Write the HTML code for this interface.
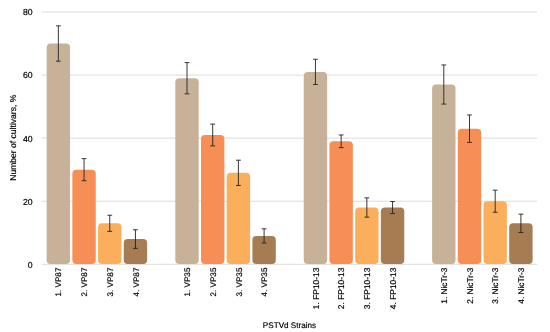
<!DOCTYPE html><html><head><meta charset="utf-8"><title>PSTVd Strains</title>
<style>html,body{margin:0;padding:0;background:#fff}svg{display:block}text{font-family:"Liberation Sans",Arial,Helvetica,sans-serif;font-size:8.5px;fill:#000;stroke:#000;stroke-width:0.18px;stroke-linejoin:round;text-rendering:geometricPrecision}</style></head><body>
<svg width="550" height="332" viewBox="0 0 550 332">
<rect width="550" height="332" fill="#fff"/>
<rect x="41.6" y="11.48" width="495.6" height="1" fill="#dcdcdc"/>
<text x="32.6" y="15.38" text-anchor="end" style="font-size:8.7px">80</text>
<rect x="41.6" y="74.56" width="495.6" height="1" fill="#dcdcdc"/>
<text x="32.6" y="78.46" text-anchor="end" style="font-size:8.7px">60</text>
<rect x="41.6" y="137.64" width="495.6" height="1" fill="#dcdcdc"/>
<text x="32.6" y="141.54" text-anchor="end" style="font-size:8.7px">40</text>
<rect x="41.6" y="200.72" width="495.6" height="1" fill="#dcdcdc"/>
<text x="32.6" y="204.62" text-anchor="end" style="font-size:8.7px">20</text>
<rect x="41.6" y="263.80" width="495.6" height="1" fill="#dcdcdc"/>
<text x="32.6" y="267.70" text-anchor="end" style="font-size:8.7px">0</text>
<rect x="46.65" y="43.52" width="23.40" height="220.38" rx="4" ry="4" fill="#c7b299"/>
<rect x="72.35" y="169.68" width="23.40" height="94.22" rx="4" ry="4" fill="#f68e56"/>
<rect x="98.05" y="223.30" width="23.40" height="40.60" rx="4" ry="4" fill="#fbaf5d"/>
<rect x="123.75" y="239.07" width="23.40" height="24.83" rx="4" ry="4" fill="#a67c52"/>
<path d="M58.35 25.84V61.20M55.95 25.84h4.8M55.95 61.20h4.8" stroke="#222" stroke-width="0.9" fill="none"/>
<text transform="translate(61.45 267.6) rotate(-90)" text-anchor="end" style="font-size:8.12px">1. VP87</text>
<path d="M84.05 158.63V180.73M81.65 158.63h4.8M81.65 180.73h4.8" stroke="#222" stroke-width="0.9" fill="none"/>
<text transform="translate(87.15 267.6) rotate(-90)" text-anchor="end" style="font-size:8.12px">2. VP87</text>
<path d="M109.75 215.24V231.36M107.35 215.24h4.8M107.35 231.36h4.8" stroke="#222" stroke-width="0.9" fill="none"/>
<text transform="translate(112.85 267.6) rotate(-90)" text-anchor="end" style="font-size:8.12px">3. VP87</text>
<path d="M135.45 229.75V248.39M133.05 229.75h4.8M133.05 248.39h4.8" stroke="#222" stroke-width="0.9" fill="none"/>
<text transform="translate(138.55 267.6) rotate(-90)" text-anchor="end" style="font-size:8.12px">4. VP87</text>
<rect x="175.30" y="78.21" width="23.40" height="185.69" rx="4" ry="4" fill="#c7b299"/>
<rect x="201.00" y="134.99" width="23.40" height="128.91" rx="4" ry="4" fill="#f68e56"/>
<rect x="226.70" y="172.83" width="23.40" height="91.07" rx="4" ry="4" fill="#fbaf5d"/>
<rect x="252.40" y="235.91" width="23.40" height="27.99" rx="4" ry="4" fill="#a67c52"/>
<path d="M187.00 62.59V93.84M184.60 62.59h4.8M184.60 93.84h4.8" stroke="#222" stroke-width="0.9" fill="none"/>
<text transform="translate(190.10 267.6) rotate(-90)" text-anchor="end" style="font-size:8.12px">1. VP35</text>
<path d="M212.70 124.09V145.88M210.30 124.09h4.8M210.30 145.88h4.8" stroke="#222" stroke-width="0.9" fill="none"/>
<text transform="translate(215.80 267.6) rotate(-90)" text-anchor="end" style="font-size:8.12px">2. VP35</text>
<path d="M238.40 160.20V185.47M236.00 160.20h4.8M236.00 185.47h4.8" stroke="#222" stroke-width="0.9" fill="none"/>
<text transform="translate(241.50 267.6) rotate(-90)" text-anchor="end" style="font-size:8.12px">3. VP35</text>
<path d="M264.10 228.80V243.03M261.70 228.80h4.8M261.70 243.03h4.8" stroke="#222" stroke-width="0.9" fill="none"/>
<text transform="translate(267.20 267.6) rotate(-90)" text-anchor="end" style="font-size:8.12px">4. VP35</text>
<rect x="303.75" y="71.91" width="23.40" height="191.99" rx="4" ry="4" fill="#c7b299"/>
<rect x="329.45" y="141.29" width="23.40" height="122.61" rx="4" ry="4" fill="#f68e56"/>
<rect x="355.15" y="207.53" width="23.40" height="56.37" rx="4" ry="4" fill="#fbaf5d"/>
<rect x="380.85" y="207.53" width="23.40" height="56.37" rx="4" ry="4" fill="#a67c52"/>
<path d="M315.45 59.27V84.54M313.05 59.27h4.8M313.05 84.54h4.8" stroke="#222" stroke-width="0.9" fill="none"/>
<text transform="translate(318.55 267.6) rotate(-90)" text-anchor="end" style="font-size:8.42px">1. FP10-13</text>
<path d="M341.15 134.97V147.62M338.75 134.97h4.8M338.75 147.62h4.8" stroke="#222" stroke-width="0.9" fill="none"/>
<text transform="translate(344.25 267.6) rotate(-90)" text-anchor="end" style="font-size:8.42px">2. FP10-13</text>
<path d="M366.85 197.89V217.16M364.45 197.89h4.8M364.45 217.16h4.8" stroke="#222" stroke-width="0.9" fill="none"/>
<text transform="translate(369.95 267.6) rotate(-90)" text-anchor="end" style="font-size:8.42px">3. FP10-13</text>
<path d="M392.55 201.52V213.54M390.15 201.52h4.8M390.15 213.54h4.8" stroke="#222" stroke-width="0.9" fill="none"/>
<text transform="translate(395.65 267.6) rotate(-90)" text-anchor="end" style="font-size:8.42px">4. FP10-13</text>
<rect x="432.10" y="84.52" width="23.40" height="179.38" rx="4" ry="4" fill="#c7b299"/>
<rect x="457.80" y="128.68" width="23.40" height="135.22" rx="4" ry="4" fill="#f68e56"/>
<rect x="483.50" y="201.22" width="23.40" height="62.68" rx="4" ry="4" fill="#fbaf5d"/>
<rect x="509.20" y="223.30" width="23.40" height="40.60" rx="4" ry="4" fill="#a67c52"/>
<path d="M443.80 64.95V104.09M441.40 64.95h4.8M441.40 104.09h4.8" stroke="#222" stroke-width="0.9" fill="none"/>
<text transform="translate(446.90 267.6) rotate(-90)" text-anchor="end" style="font-size:8.3px">1. NicTr-3</text>
<path d="M469.50 114.94V142.41M467.10 114.94h4.8M467.10 142.41h4.8" stroke="#222" stroke-width="0.9" fill="none"/>
<text transform="translate(472.60 267.6) rotate(-90)" text-anchor="end" style="font-size:8.3px">2. NicTr-3</text>
<path d="M495.20 190.17V212.27M492.80 190.17h4.8M492.80 212.27h4.8" stroke="#222" stroke-width="0.9" fill="none"/>
<text transform="translate(498.30 267.6) rotate(-90)" text-anchor="end" style="font-size:8.3px">3. NicTr-3</text>
<path d="M520.90 214.14V232.46M518.50 214.14h4.8M518.50 232.46h4.8" stroke="#222" stroke-width="0.9" fill="none"/>
<text transform="translate(524.00 267.6) rotate(-90)" text-anchor="end" style="font-size:8.3px">4. NicTr-3</text>
<text transform="translate(16.4 137.7) rotate(-90)" text-anchor="middle" style="font-size:8.55px">Number of cultivars, %</text>
<text x="289.5" y="328" text-anchor="middle" style="font-size:8.15px">PSTVd Strains</text>
</svg></body></html>
